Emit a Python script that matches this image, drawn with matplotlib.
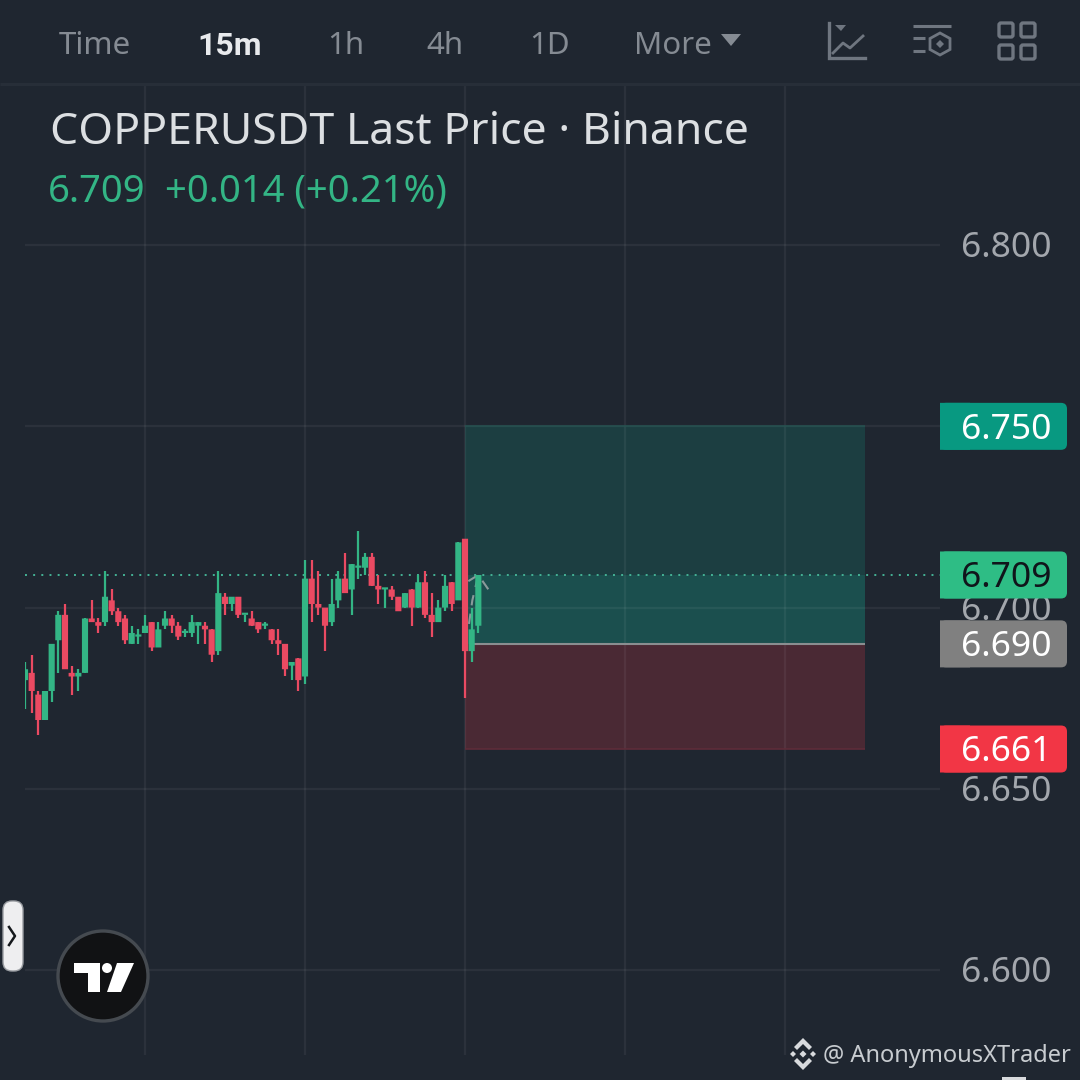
import matplotlib
matplotlib.use("Agg")
import matplotlib.pyplot as plt
from matplotlib.patches import Rectangle, FancyBboxPatch, Polygon, Circle
from matplotlib.transforms import blended_transform_factory

plt.rcParams['font.family'] = ['Noto Sans', 'DejaVu Sans']

##### DATA #####
opens = [6.680, 6.682, 6.676, 6.669, 6.677, 6.691, 6.698, 6.682, 6.681, 6.682,
         6.697, 6.696, 6.696, 6.702, 6.699, 6.697, 6.690, 6.692, 6.693, 6.696,
         6.689, 6.695, 6.697, 6.695, 6.693, 6.693, 6.695, 6.695, 6.694, 6.688,
         6.703, 6.701, 6.703, 6.698, 6.697, 6.696, 6.695, 6.694, 6.691, 6.690,
         6.684, 6.686, 6.681, 6.708, 6.701, 6.700, 6.696, 6.702, 6.708, 6.705,
         6.711, 6.711, 6.714, 6.706, 6.705, 6.705, 6.703, 6.700, 6.705, 6.700,
         6.707, 6.698, 6.696, 6.700, 6.707, 6.702, 6.719, 6.688, 6.695]
highs = [6.685, 6.687, 6.677, 6.677, 6.690, 6.699, 6.701, 6.684, 6.683, 6.697,
         6.702, 6.697, 6.710, 6.705, 6.700, 6.698, 6.695, 6.694, 6.698, 6.696,
         6.696, 6.699, 6.698, 6.696, 6.694, 6.698, 6.696, 6.696, 6.694, 6.710,
         6.704, 6.703, 6.703, 6.698, 6.699, 6.696, 6.696, 6.694, 6.694, 6.690,
         6.685, 6.686, 6.713, 6.713, 6.710, 6.700, 6.708, 6.710, 6.715, 6.712,
         6.721, 6.715, 6.715, 6.709, 6.705, 6.706, 6.703, 6.704, 6.705, 6.709,
         6.710, 6.704, 6.702, 6.709, 6.707, 6.718, 6.719, 6.700, 6.709]
lows = [6.672, 6.671, 6.665, 6.669, 6.674, 6.682, 6.683, 6.676, 6.677, 6.682,
        6.696, 6.693, 6.695, 6.698, 6.695, 6.690, 6.690, 6.690, 6.693, 6.688,
        6.689, 6.694, 6.693, 6.691, 6.692, 6.692, 6.690, 6.690, 6.685, 6.687,
        6.698, 6.699, 6.697, 6.696, 6.695, 6.693, 6.694, 6.690, 6.687, 6.681,
        6.680, 6.677, 6.679, 6.696, 6.698, 6.688, 6.695, 6.700, 6.704, 6.698,
        6.708, 6.709, 6.706, 6.701, 6.700, 6.702, 6.699, 6.700, 6.695, 6.700,
        6.697, 6.692, 6.696, 6.699, 6.699, 6.702, 6.675, 6.685, 6.693]
closes = [6.683, 6.677, 6.669, 6.677, 6.690, 6.698, 6.683, 6.681, 6.682, 6.697,
          6.696, 6.695, 6.703, 6.699, 6.696, 6.691, 6.693, 6.692, 6.695, 6.689,
          6.694, 6.697, 6.695, 6.692, 6.693, 6.696, 6.696, 6.694, 6.687, 6.704,
          6.701, 6.703, 6.698, 6.698, 6.695, 6.694, 6.695, 6.691, 6.690, 6.683,
          6.685, 6.680, 6.708, 6.701, 6.700, 6.695, 6.701, 6.708, 6.704, 6.712,
          6.711, 6.714, 6.706, 6.705, 6.705, 6.703, 6.699, 6.704, 6.700, 6.707,
          6.698, 6.696, 6.700, 6.706, 6.701, 6.718, 6.688, 6.694, 6.709]

price_ticks = [6.800, 6.750, 6.700, 6.650, 6.600]
time_grid = [18, 42, 66, 90, 114]
last_price = 6.709
target = 6.750
entry = 6.690
stop = 6.661
pos_start, pos_end = 66, 126
arrow_shaft_x = [66.6, 67.1, 68.0]
arrow_shaft_y = [6.6955, 6.7020, 6.7090]
arrow_head_x = [66.5, 68.0, 69.7]
arrow_head_y = [6.7073, 6.7090, 6.7045]
tabs = ["Time", "15m", "1h", "4h", "1D", "More"]
tab_x = [59, 197, 327, 426, 529, 634]

BG = '#1f2630'
GREEN = '#33b585'
RED = '#ea4a62'
ICON = '#6f7680'

fig = plt.figure(figsize=(10.8, 10.8), dpi=100, facecolor=BG)
ax = fig.add_axes([0, 0, 1, 1])
ax.set_xlim(-3.75, 158.25)
ax.set_ylim(6.5697, 6.8676)
ax.set_axis_off()

# overlay in pixels for the app chrome
ui = fig.add_axes([0, 0, 1, 1], facecolor='none')
ui.set_xlim(0, 1080)
ui.set_ylim(1080, 0)
ui.set_axis_off()
px_price = blended_transform_factory(ui.transData, ax.transData)


def price_y(p):
    return ui.transData.inverted().transform(ax.transData.transform((0, p)))[1]


##### POSITION BOX #####
width = pos_end - pos_start
ax.add_patch(Rectangle((pos_start, last_price), width, target - last_price, fc='#1c3e41', ec='none', zorder=0.5))
ax.add_patch(Rectangle((pos_start, entry), width, last_price - entry, fc='#1b4f4e', ec='none', zorder=0.5))
ax.add_patch(Rectangle((pos_start, stop), width, entry - stop, fc='#4a2934', ec='none', zorder=0.5))
ax.hlines(target, pos_start, pos_end, color='#25504f', lw=1.2, zorder=2)
ax.hlines(stop, pos_start, pos_end, color='#5e2c39', lw=1.2, zorder=2)
ax.hlines(entry, pos_start + 1, pos_end, color='#8a8e90', lw=1.5, zorder=3)

##### GRID #####
ax.hlines(price_ticks, 0, 137.25, color='white', alpha=0.055, lw=1.6, zorder=1)
ax.vlines(time_grid, 6.5766, 6.8444, color='white', alpha=0.055, lw=1.6, zorder=1)

##### CANDLES #####
# the price pane starts at candle 0, so that candle is cut in half
pane = Rectangle((0, 6.5), 200, 0.5, transform=ax.transData)
for i in range(len(opens)):
    c = GREEN if closes[i] >= opens[i] else RED
    wick = ax.vlines(i, lows[i], highs[i], color=c, lw=1.6, zorder=5)
    wick.set_clip_path(pane)
    h = max(abs(closes[i] - opens[i]), 0.0006)
    body = ax.bar(i, h, bottom=min(opens[i], closes[i]), width=0.92, color=c, zorder=5)
    body[0].set_clip_path(pane)
    body[0].set_snap(False)

ax.hlines(last_price, 0, 137.25, color='#45b295', lw=1.4, linestyles=(0, (1, 3.2)), zorder=4)
ax.plot(arrow_shaft_x, arrow_shaft_y, color='#8b9a9a', lw=1.5, linestyle=(0, (5, 4)), zorder=4)
ax.plot(arrow_head_x, arrow_head_y, color='#8b9a9a', lw=1.5, linestyle=(0, (5, 4)), zorder=4)


##### PRICE AXIS #####
def price_text(p, color, z):
    ui.annotate(f"{p:.3f}", xy=(1006, p), xycoords=px_price, xytext=(0, -2.4), textcoords='offset points',
                ha='center', va='center', fontsize=25.5, color=color, zorder=z)


for p in price_ticks:
    price_text(p, '#a3a7ad', 6)

for p, c, tc in [(target, '#089981', 'white'), (last_price, '#2ebd85', '#10151b'),
                 (entry, '#808080', 'white'), (stop, '#f23645', 'white')]:
    y = price_y(p)
    ui.add_patch(FancyBboxPatch((940, y - 23.5), 127, 47, boxstyle="round,pad=0,rounding_size=6",
                                fc=c, ec='none', zorder=7, snap=False))
    ui.add_patch(Rectangle((940, y - 23.5), 30, 47, fc=c, ec='none', zorder=7, snap=False))
    price_text(p, tc, 8)

##### TOP BAR #####
ui.hlines(84, 0, 1080, color='#272e38', lw=2.2)
for t, x in zip(tabs, tab_x):
    if t == "15m":
        ui.text(x, 46, t, ha='left', va='center', fontsize=23, color='#e8eaed',
                family='Roboto', fontweight='bold')
    else:
        ui.text(x, 46, t, ha='left', va='center', fontsize=22.5, color='#858b93')
ui.add_patch(Polygon([(721, 34), (741, 34), (731, 46)], fc='#858b93', ec='none'))

# chart icon
ui.plot([829, 829, 865], [23, 58, 58], color=ICON, lw=2.4, solid_joinstyle='miter')
ui.add_patch(Polygon([(835, 25), (846, 25), (841, 31)], fc=ICON, ec='none'))
ui.plot([833, 843, 850, 863], [53, 43, 48, 36], color=ICON, lw=2)
# settings icon
ui.hlines(26, 913, 951, color=ICON, lw=2.2)
ui.hlines([38, 51], 913, 925, color=ICON, lw=2.2)
ui.add_patch(Polygon([(940, 33), (950, 38.5), (950, 49.5), (940, 55), (930, 49.5), (930, 38.5)],
                     fc='none', ec=ICON, lw=2))
ui.add_patch(Polygon([(940, 40), (944, 44), (940, 48), (936, 44)], fc=ICON, ec='none'))
# layout icon
for x in (999, 1021):
    for y in (23, 45):
        ui.add_patch(FancyBboxPatch((x, y), 14, 14, boxstyle="round,pad=0,rounding_size=2",
                                    fc='none', ec=ICON, lw=2.4))

##### TITLE #####
ui.text(50, 133, "COPPERUSDT Last Price · Binance", ha='left', va='center', fontsize=32.1, color='#dcdfe2')
ui.text(48, 192, "6.709", ha='left', va='center', fontsize=27.5, color=GREEN)
ui.text(165, 192, "+0.014 (+0.21%)", ha='left', va='center', fontsize=27.5, color=GREEN)

##### TRADINGVIEW LOGO AND HANDLE #####
ui.add_patch(FancyBboxPatch((3, 901), 20, 70, boxstyle="round,pad=0,rounding_size=9",
                            fc='#eeeef0', ec='#9a9da2', lw=1, zorder=9))
ui.plot([9, 15, 9], [927, 936, 945], color='#15181c', lw=1.8, zorder=10)
ui.add_patch(Circle((103, 976), 45, fc='#111214', ec='#454a50', lw=2.4, zorder=9))
ui.add_patch(Polygon([(74, 963), (100, 963), (100, 992), (88, 992), (88, 973), (74, 973)],
                     fc='white', ec='none', zorder=10))
ui.add_patch(Polygon([(117, 963), (134, 963), (121, 992), (107, 992)], fc='white', ec='none', zorder=10))
ui.add_patch(Circle((107, 968), 5, fc='white', ec='none', zorder=10))

##### WATERMARK #####
ui.add_patch(Polygon([(803, 1038), (812, 1047), (809, 1050), (803, 1044), (797, 1050), (794, 1047)],
                     fc='#d8dadd', ec='none', zorder=9))
ui.add_patch(Polygon([(803, 1070), (812, 1061), (809, 1058), (803, 1064), (797, 1058), (794, 1061)],
                     fc='#d8dadd', ec='none', zorder=9))
for cx, r in [(793, 3), (813, 3), (803, 3.5)]:
    ui.add_patch(Polygon([(cx, 1054 - r), (cx + r, 1054), (cx, 1054 + r), (cx - r, 1054)],
                         fc='#d8dadd', ec='none', zorder=9))
ui.text(823, 1056, "@ AnonymousXTrader", ha='left', va='center', fontsize=17, color='#c8ccd0', zorder=9)
ui.add_patch(Rectangle((1002, 1077), 24, 3, fc='#d8dadd', ec='none'))

fig.savefig('out.png', dpi=100, facecolor=BG)
